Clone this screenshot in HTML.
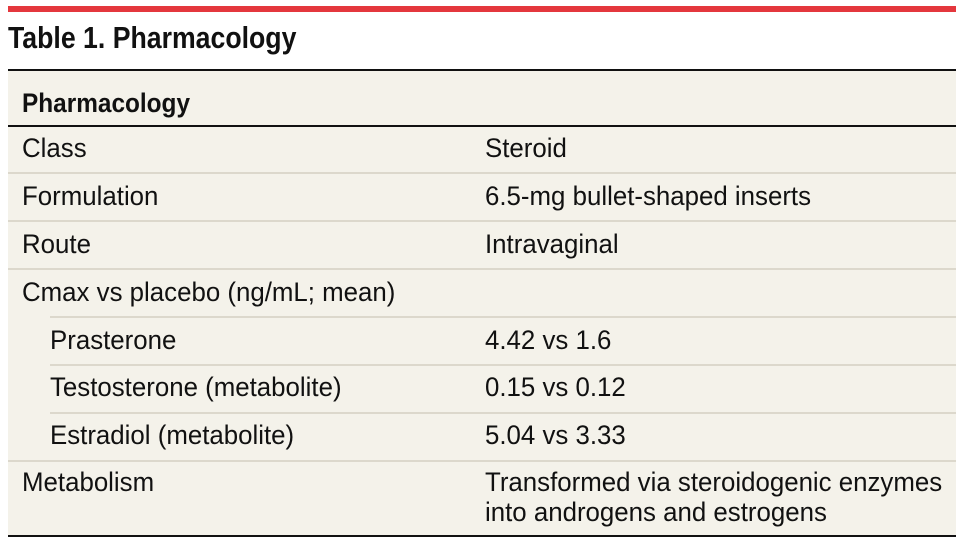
<!DOCTYPE html>
<html><head><meta charset="utf-8"><style>
html,body{margin:0;padding:0;background:#fff;}
body{width:963px;height:546px;position:relative;overflow:hidden;font-family:"Liberation Sans",sans-serif;color:#111;}
.abs{position:absolute;}
.red{left:8px;top:6px;width:948px;height:6px;background:#e4373d;}
.title{left:8px;top:21px;font-size:31px;font-weight:bold;line-height:34px;white-space:nowrap;transform:scaleX(0.86);transform-origin:0 0;}
.bg{left:8px;top:71px;width:948px;height:464px;background:#f4f2ea;}
.thick{left:8px;width:948px;height:2px;background:#111;}
.thin{height:2px;background:#dcd8cc;}
.t{font-size:27px;line-height:30px;white-space:nowrap;transform:scaleX(0.957);transform-origin:0 0;}
.hdr{left:22px;top:88px;font-size:27px;font-weight:bold;line-height:30px;white-space:nowrap;transform:scaleX(0.903);transform-origin:0 0;}
</style></head><body>
<div class="abs red"></div>
<div class="abs title">Table 1. Pharmacology</div>
<div class="abs bg"></div>
<div class="abs thick" style="top:69px"></div>
<div class="abs hdr">Pharmacology</div>
<div class="abs thick" style="top:125px"></div>

<div class="abs t" style="left:22px;top:133px">Class</div>
<div class="abs t" style="left:485px;top:133px">Steroid</div>
<div class="abs thin" style="left:8px;width:948px;top:172px"></div>

<div class="abs t" style="left:22px;top:181px">Formulation</div>
<div class="abs t" style="left:485px;top:181px">6.5-mg bullet-shaped inserts</div>
<div class="abs thin" style="left:8px;width:948px;top:220px"></div>

<div class="abs t" style="left:22px;top:229px">Route</div>
<div class="abs t" style="left:485px;top:229px">Intravaginal</div>
<div class="abs thin" style="left:8px;width:948px;top:268px"></div>

<div class="abs t" style="left:22px;top:277px">Cmax vs placebo (ng/mL; mean)</div>
<div class="abs thin" style="left:50px;width:906px;top:316px"></div>

<div class="abs t" style="left:50px;top:325px">Prasterone</div>
<div class="abs t" style="left:485px;top:325px">4.42 vs 1.6</div>
<div class="abs thin" style="left:50px;width:906px;top:364px"></div>

<div class="abs t" style="left:50px;top:372px">Testosterone (metabolite)</div>
<div class="abs t" style="left:485px;top:372px">0.15 vs 0.12</div>
<div class="abs thin" style="left:50px;width:906px;top:412px"></div>

<div class="abs t" style="left:50px;top:420px">Estradiol (metabolite)</div>
<div class="abs t" style="left:485px;top:420px">5.04 vs 3.33</div>
<div class="abs thin" style="left:8px;width:948px;top:460px"></div>

<div class="abs t" style="left:22px;top:467px">Metabolism</div>
<div class="abs t" style="left:485px;top:467px">Transformed via steroidogenic enzymes<br>into androgens and estrogens</div>
<div class="abs thick" style="top:535px"></div>
</body></html>
